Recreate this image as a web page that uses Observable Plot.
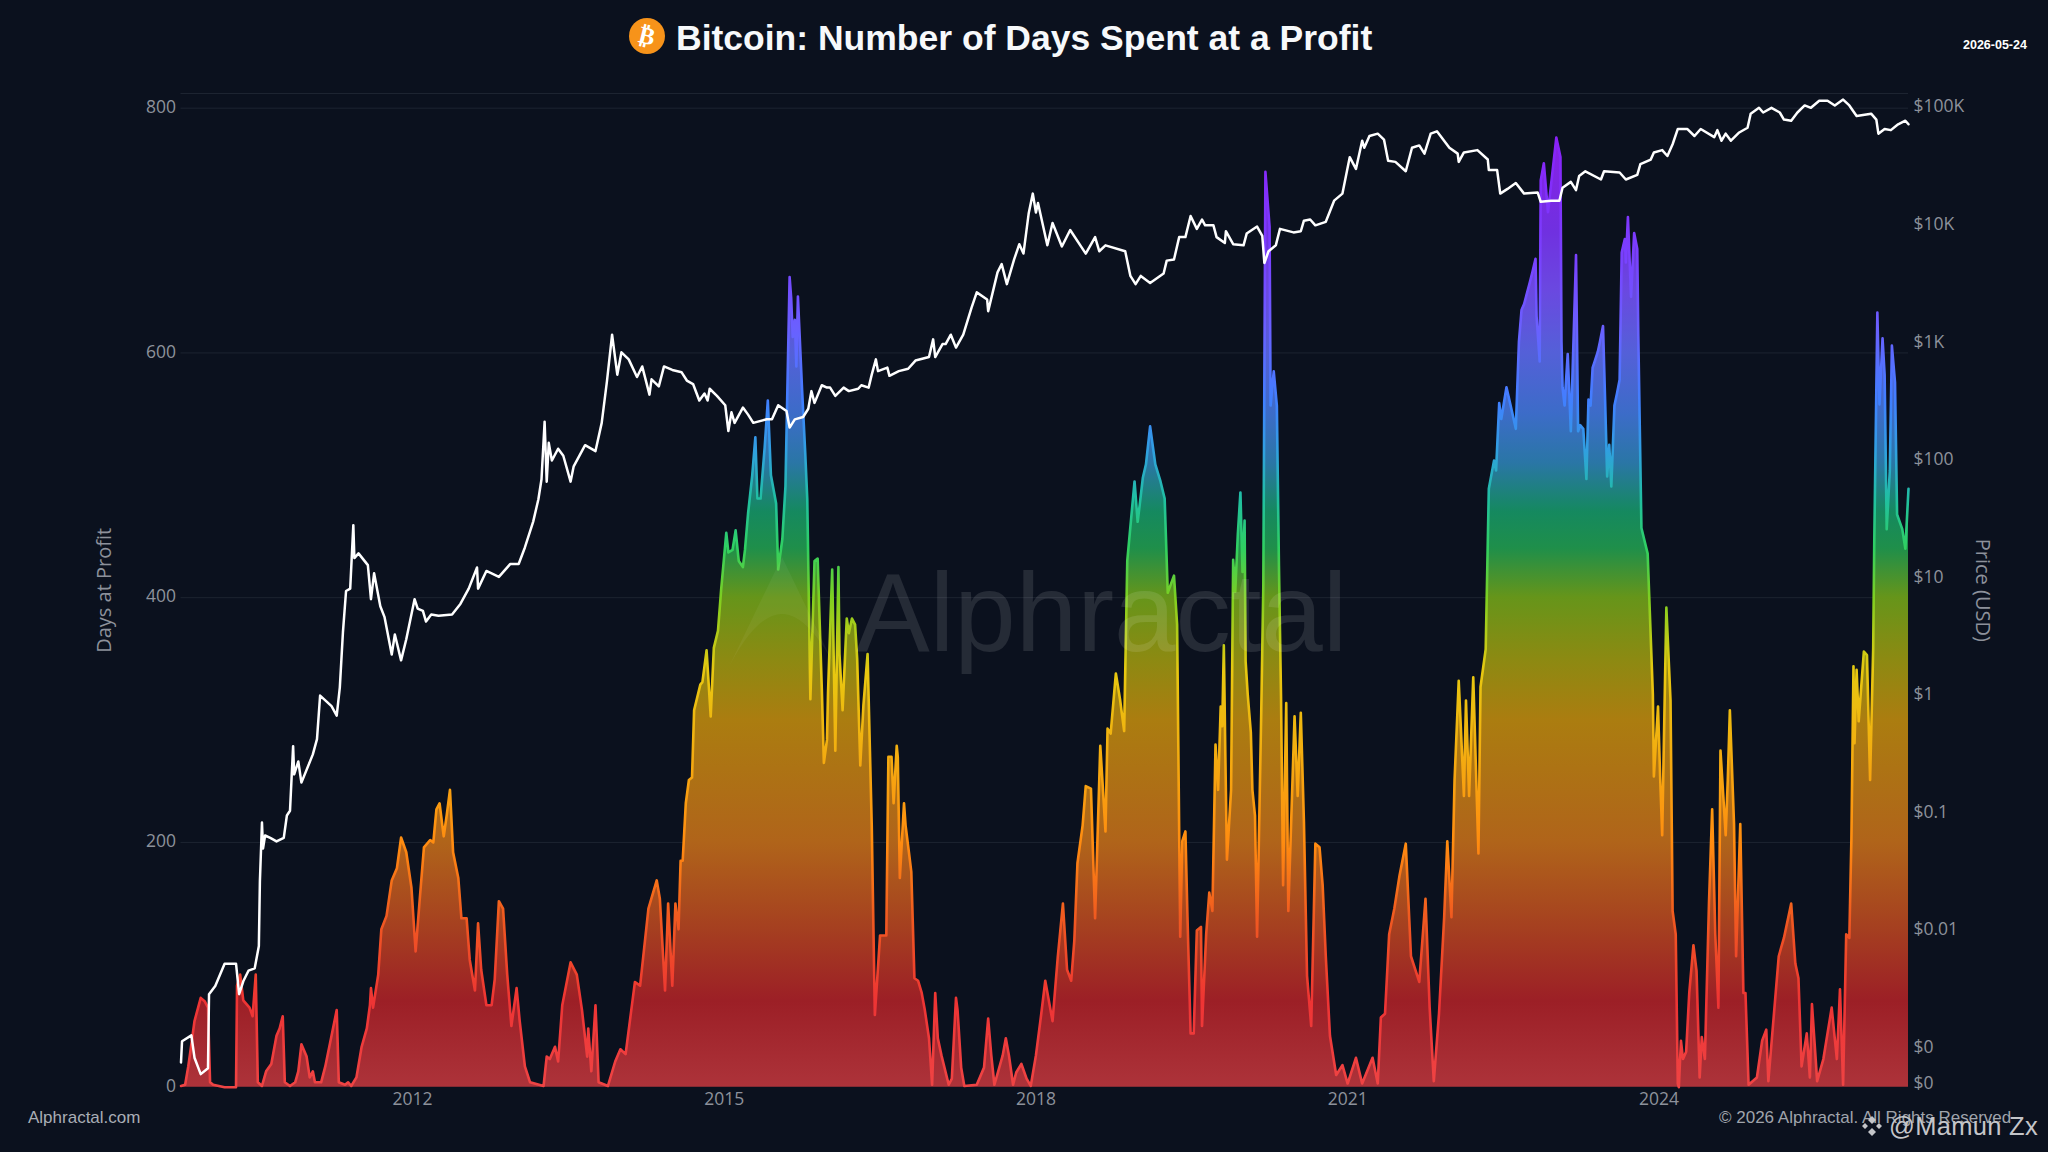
<!DOCTYPE html>
<html>
<head>
<meta charset="utf-8">
<title>Bitcoin: Number of Days Spent at a Profit</title>
<script src="https://cdn.jsdelivr.net/npm/d3@7"></script>
<script src="https://cdn.jsdelivr.net/npm/@observablehq/plot@0.6"></script>
<style>
  html,body{margin:0;padding:0;background:#0b111e;width:2048px;height:1152px;overflow:hidden}
  #stage{position:relative;width:2048px;height:1152px;font-family:"Liberation Sans",Arial,sans-serif}
  #stage>svg.plotlayer,#stage>figure{position:absolute;left:0;top:0;margin:0}
  .abs{position:absolute;white-space:nowrap}
  #title{left:676px;top:16px;font-size:35.5px;line-height:44px;font-weight:700;color:#f7f9fb}
  #coin{left:629px;top:18px;width:36px;height:36px;border-radius:50%;background:#f7931a;color:#fff;font:700 24px/36px "DejaVu Sans";text-align:center}
  #coin span{display:inline-block;transform:rotate(14deg)}
  #date{left:1963px;top:37px;font-size:12.5px;line-height:16px;font-weight:700;color:#fff}
  #site{left:28px;top:1108px;font-size:17px;line-height:20px;color:#a9adb5}
  #copy{left:1719px;top:1108px;font-size:17px;line-height:20px;color:#a0a4ac}
  #tag{left:1889px;top:1112px;font-size:25.5px;line-height:28px;color:#c4c5c9;letter-spacing:.3px}
  #stage svg#bn{left:1859px;top:1113px}
  #mark{left:856px;top:550px;font-size:110.5px;line-height:126px;color:#fff;opacity:.105}
  #stage svg#logo{left:722px;top:552px;opacity:.045}
</style>
</head>
<body>
<div id="stage"></div>
<script>
// Days at profit: decimal year of each read vertex, and value read at it
const dayYears = [2009.77,2009.81,2009.84,2009.86,2009.90,2009.96,2010.00,2010.03,2010.05,2010.08,2010.19,2010.30,2010.31,2010.34,2010.37,2010.43,2010.46,2010.49,2010.51,2010.55,2010.59,2010.64,2010.69,2010.72,2010.75,2010.77,2010.82,2010.87,2010.90,2010.93,2010.98,2011.01,2011.04,2011.06,2011.12,2011.16,2011.22,2011.27,2011.29,2011.35,2011.38,2011.41,2011.46,2011.51,2011.56,2011.59,2011.60,2011.62,2011.67,2011.70,2011.75,2011.80,2011.85,2011.89,2011.94,2011.99,2012.03,2012.07,2012.11,2012.17,2012.20,2012.23,2012.26,2012.30,2012.33,2012.36,2012.39,2012.44,2012.47,2012.52,2012.55,2012.60,2012.63,2012.66,2012.71,2012.76,2012.79,2012.83,2012.87,2012.91,2012.95,2013.00,2013.03,2013.08,2013.13,2013.26,2013.29,2013.32,2013.37,2013.40,2013.44,2013.52,2013.58,2013.63,2013.68,2013.69,2013.72,2013.76,2013.79,2013.88,2013.95,2014.00,2014.05,2014.14,2014.19,2014.27,2014.35,2014.38,2014.43,2014.46,2014.50,2014.53,
2014.56,2014.58,2014.63,2014.66,2014.71,2014.77,2014.83,2014.87,2014.90,2014.94,2014.97,2015.02,2015.08,2015.11,2015.18,2015.23,2015.30,2015.35,2015.39,2015.42,2015.45,2015.52,2015.56,2015.59,2015.63,2015.68,2015.71,2015.75,2015.80,2015.83,2015.87,2015.90,2015.94,2015.96,2016.00,2016.04,2016.07,2016.10,2016.14,2016.18,2016.23,2016.28,2016.31,2016.34,2016.38,2016.42,2016.45,2016.50,2016.56,2016.58,2016.66,2016.69,2016.73,2016.78,2016.83,2016.90,2016.97,2017.00,2017.03,2017.09,2017.16,2017.23,2017.31,2017.43,2017.54,2017.60,2017.71,2017.78,2017.86,2017.95,2018.00,2018.09,2018.16,2018.26,2018.34,2018.40,2018.48,2018.53,2018.57,2018.62,2018.67,2018.69,2018.77,2018.85,2018.88,2018.95,2019.03,2019.10,2019.15,2019.24,2019.27,2019.33,2019.36,
2019.39,2019.41,2019.44,2019.46,2019.49,2019.52,2019.55,2019.59,2019.60,2019.64,2019.67,2019.70,2019.73,2019.78,2019.81,2019.84,2019.88,2019.90,2019.92,2019.97,2019.99,2020.01,2020.02,2020.07,2020.11,2020.13,2020.17,2020.19,2020.21,2020.25,2020.26,2020.29,2020.32,2020.34,2020.36,2020.38,2020.41,2020.43,2020.49,2020.52,2020.55,2020.58,2020.61,2020.65,2020.69,2020.73,2020.76,2020.79,2020.83,2020.89,2020.95,2021.00,2021.08,2021.14,2021.24,2021.29,2021.32,2021.36,2021.40,2021.45,2021.50,2021.56,2021.61,2021.69,2021.75,2021.79,2021.83,2021.88,2021.93,2021.96,2022.00,2022.03,2022.07,2022.12,2022.14,2022.17,2022.21,2022.26,2022.28,2022.33,2022.36,2022.41,2022.46,2022.53,2022.62,2022.65,2022.70,2022.75,2022.81,2022.85,2022.86,2022.89,2022.93,2023.01,2023.05,2023.06,2023.07,2023.09,2023.12,2023.15,2023.20,2023.22,2023.27,2023.30,2023.32,2023.36,2023.41,2023.46,2023.48,2023.50,2023.54,2023.57,2023.62,2023.64,2023.70,2023.73,2023.76,2023.79,2023.80,2023.83,2023.89,2023.94,2023.95,2023.99,2024.01,2024.03,2024.07,2024.11,2024.13,2024.16,2024.18,
2024.19,2024.21,2024.23,2024.26,2024.29,2024.33,2024.36,2024.39,2024.41,2024.44,2024.48,2024.51,2024.54,2024.57,2024.59,2024.64,2024.66,2024.68,2024.72,2024.74,2024.78,2024.81,2024.83,2024.86,2024.94,2024.99,2025.03,2025.05,2025.10,2025.15,2025.20,2025.27,2025.31,2025.34,2025.37,2025.42,2025.45,2025.47,2025.52,2025.58,2025.66,2025.71,2025.74,2025.77,2025.80,2025.83,2025.85,2025.87,2025.88,2025.90,2025.92,2025.97,2026.00,2026.03,2026.06,2026.07,2026.10,2026.12,2026.15,2026.17,2026.19,2026.22,2026.24,2026.27,2026.29,2026.34,2026.37,2026.40];
const daysAtProfit = [1,2,17,29,54,73,70,65,4,2,0,0,83,92,71,65,58,92,4,1,13,19,42,48,58,4,1,4,13,35,25,8,13,4,4,17,42,63,4,2,4,1,8,33,48,67,81,65,92,129,140,169,179,204,192,163,111,154,196,202,200,227,232,205,223,243,192,171,138,138,104,79,134,96,67,67,88,152,146,92,50,81,54,17,4,1,25,23,33,21,67,102,92,63,25,48,13,67,4,1,21,31,27,86,83,146,169,154,79,150,83,150,
129,185,232,251,308,329,357,303,359,373,406,453,439,455,425,469,531,481,523,561,500,423,448,491,662,627,646,570,481,317,430,432,326,265,322,423,275,425,308,383,383,350,263,312,354,214,59,124,124,270,279,171,232,190,89,77,40,2,77,26,2,73,1,2,56,2,40,2,19,1,26,87,54,150,87,183,246,244,138,279,209,293,338,291,430,495,498,540,509,481,404,418,378,
123,201,209,139,44,44,128,131,50,125,159,144,280,311,361,186,243,431,405,486,421,463,348,290,222,123,306,410,748,703,557,585,557,426,319,165,314,144,303,238,306,217,91,50,199,196,165,107,42,10,18,3,24,3,24,3,57,60,125,146,173,199,107,86,154,65,5,60,139,201,139,251,332,238,316,238,335,191,327,358,489,512,559,572,538,609,640,656,677,593,741,755,715,776,760,609,572,557,599,536,680,536,538,497,562,588,601,622,562,499,491,557,578,682,711,646,698,685,614,457,436,321,254,311,254,206,392,316,144,125,3,
0,38,23,29,77,116,95,8,41,23,152,227,125,65,275,206,251,308,215,107,215,77,77,2,8,38,47,5,56,107,122,150,101,89,17,44,8,68,5,23,65,23,80,2,125,122,203,344,281,341,299,356,353,251,359,444,633,558,612,582,456,504,606,576,468,456,440,489];
// further vertices read between the ones above
const dayYearsExtra = [2014.60,2014.69,2014.79,2015.04,2015.14,2015.20,2015.27,2015.32,2015.50,2015.645,2015.66,2015.695,2015.78,2015.99,2016.11,2016.20,2016.26,2016.61,2016.63,2016.67,2016.745,2016.80,2016.865,2016.93,2017.055,2017.19,2017.245,2017.28,2017.50,2017.57,2017.68,2017.74,2017.81,2017.91,2018.05,2018.21,2018.30,2018.37,2018.45,2018.72,2018.81,2018.91,2018.98,2019.00,2019.06,2019.20,2022.43,2022.48,2022.57,2022.675,2022.78,2022.82,2023.10,2023.24,2023.34,2023.38,2023.43,2023.52,2023.595,2023.67,2023.68,2019.755,2019.795,2019.825,2019.945,2020.04,2020.085];
const daysExtra = [185,253,331,437,430,439,500,481,477,645,613,589,519,284,354,371,378,270,232,270,214,176,87,63,40,7,63,16,16,26,26,26,12,7,59,106,96,120,214,289,317,458,462,476,509,495,504,546,557,635,666,630,572,541,557,593,609,525,567,693,674,243,295,269,452,321,243];

// Bitcoin price: decimal year of each read vertex, and log10 of the USD price read at it
const priceYears = [2009.77,2009.78,2009.87,2009.90,2009.96,2010.03,2010.04,2010.10,2010.19,2010.30,2010.33,2010.37,2010.42,2010.48,2010.52,2010.53,2010.55,2010.56,2010.58,2010.63,2010.69,2010.76,2010.79,2010.82,2010.85,2010.86,2010.90,2010.93,2011.04,2011.08,2011.11,2011.16,2011.22,2011.27,2011.30,2011.33,2011.36,2011.40,2011.43,2011.44,2011.48,2011.57,2011.60,2011.63,2011.69,2011.73,2011.80,2011.83,2011.89,2011.94,2012.02,2012.05,2012.10,2012.13,2012.18,2012.25,2012.38,2012.46,2012.54,2012.62,2012.63,2012.71,2012.83,2012.94,2013.02,2013.08,2013.16,2013.21,2013.24,2013.27,2013.29,2013.31,2013.34,2013.40,2013.45,2013.52,2013.55,2013.66,2013.76,2013.82,2013.87,2013.92,2013.97,2014.01,2014.08,2014.16,2014.21,2014.28,2014.30,2014.37,2014.42,2014.50,
2014.59,2014.64,2014.70,2014.76,2014.81,2014.84,2014.86,2014.93,2015.01,2015.04,2015.07,2015.10,2015.18,2015.23,2015.28,2015.41,2015.46,2015.52,2015.60,2015.63,2015.68,2015.76,2015.81,2015.84,2015.87,2015.94,2015.99,2016.02,2016.07,2016.15,2016.20,2016.29,2016.32,2016.39,2016.42,2016.46,2016.48,2016.57,2016.59,2016.68,2016.77,2016.84,2016.97,2017.01,2017.03,2017.10,2017.13,2017.18,2017.23,2017.30,2017.38,2017.43,2017.53,2017.54,2017.63,2017.67,2017.72,2017.79,2017.84,2017.88,2017.93,2017.97,2018.00,2018.02,2018.11,2018.16,2018.25,2018.33,2018.48,2018.57,2018.61,2018.67,
2018.86,2018.91,2018.96,2019.01,2019.10,2019.23,2019.26,2019.33,2019.38,2019.44,2019.49,2019.55,2019.60,2019.63,2019.71,2019.74,2019.82,2019.83,2019.90,2020.00,2020.03,2020.13,2020.18,2020.20,2020.24,2020.31,2020.35,2020.48,2020.55,2020.58,2020.64,2020.69,2020.79,2020.87,2020.95,2021.02,2021.08,2021.14,2021.16,2021.21,2021.29,2021.35,2021.39,2021.46,2021.56,2021.62,2021.69,2021.74,2021.80,2021.86,2021.98,2022.06,2022.07,2022.12,2022.25,2022.35,2022.36,2022.44,2022.47,2022.54,2022.62,2022.70,2022.83,2022.86,2022.96,2023.04,2023.07,2023.15,2023.20,2023.23,2023.29,2023.44,
2023.47,2023.62,2023.68,2023.79,2023.82,2023.92,2023.95,2024.03,2024.08,2024.13,2024.18,2024.27,2024.34,2024.40,2024.53,2024.56,2024.60,2024.64,2024.69,2024.77,2024.85,2024.88,2024.96,2025.00,2025.08,2025.16,2025.20,2025.27,2025.33,2025.40,2025.46,2025.54,2025.62,2025.69,2025.77,2025.83,2025.90,2026.04,2026.09,2026.11,2026.17,2026.23,2026.30,2026.37,2026.40];
const priceLog10 = [-3.12,-2.94,-2.89,-3.08,-3.22,-3.17,-2.54,-2.47,-2.28,-2.28,-2.54,-2.43,-2.34,-2.32,-2.13,-1.58,-1.08,-1.30,-1.19,-1.21,-1.24,-1.21,-1.02,-0.98,-0.43,-0.67,-0.56,-0.74,-0.50,-0.37,0.00,-0.04,-0.09,-0.17,0.07,0.54,0.89,0.91,1.45,1.17,1.21,1.11,0.82,1.04,0.76,0.67,0.35,0.52,0.30,0.48,0.82,0.74,0.72,0.63,0.69,0.68,0.69,0.78,0.91,1.09,0.91,1.06,1.01,1.12,1.12,1.26,1.48,1.67,1.84,2.33,1.82,2.15,2.00,2.10,2.04,1.82,1.95,2.13,2.08,2.32,2.67,3.07,2.73,2.92,2.86,2.71,2.80,2.56,2.69,2.63,2.80,2.77,
2.75,2.68,2.65,2.51,2.57,2.51,2.61,2.55,2.47,2.25,2.41,2.32,2.45,2.39,2.32,2.35,2.35,2.47,2.42,2.28,2.35,2.37,2.44,2.59,2.49,2.64,2.62,2.62,2.55,2.62,2.59,2.61,2.64,2.62,2.73,2.86,2.76,2.79,2.72,2.76,2.78,2.85,2.88,3.03,2.88,2.99,2.99,3.07,2.96,3.07,3.30,3.43,3.37,3.27,3.60,3.67,3.50,3.71,3.84,3.76,4.10,4.27,4.11,4.19,3.83,4.02,3.82,3.96,3.76,3.90,3.78,3.83,
3.78,3.57,3.50,3.57,3.51,3.59,3.70,3.71,3.90,3.90,4.08,3.97,4.05,4.00,4.00,3.90,3.85,3.95,3.84,3.83,3.93,3.99,3.91,3.68,3.78,3.83,3.97,3.94,3.95,4.04,4.05,4.00,4.03,4.21,4.27,4.58,4.48,4.72,4.66,4.76,4.78,4.73,4.55,4.54,4.46,4.66,4.68,4.61,4.78,4.80,4.66,4.61,4.54,4.62,4.64,4.56,4.47,4.47,4.27,4.31,4.36,4.27,4.28,4.20,4.21,4.21,4.32,4.37,4.30,4.42,4.46,4.39,
4.46,4.45,4.39,4.43,4.52,4.56,4.62,4.64,4.59,4.69,4.82,4.82,4.76,4.82,4.75,4.81,4.72,4.78,4.72,4.79,4.83,4.95,5.00,4.96,5.00,4.96,4.90,4.89,4.96,5.02,5.00,5.06,5.06,5.02,5.07,5.02,4.93,4.95,4.90,4.78,4.82,4.81,4.86,4.89,4.86];

const dayTicks = [0,200,400,600,800];
const priceTicks = [100000,10000,1000,100,10,1,0.1,0.01,0.001];
const priceTickLabels = ["$100K","$10K","$1K","$100","$10","$1","$0.1","$0.01","$0"];
const priceBottomTick = 0.00049;
const priceBottomLabel = "$0";
const yearTicks = [2012,2015,2018,2021,2024];

// colour ramps keyed to days at profit
const fillStops = [[0,"#ad333a"],[70,"#9c1f26"],[140,"#a7451f"],[200,"#b0641a"],[300,"#ab7d10"],[350,"#8c8a12"],[400,"#66951a"],[440,"#1f8f4a"],[470,"#15895f"],[510,"#2a76a6"],[550,"#3c6cc8"],[600,"#5460d8"],[650,"#6a49e0"],[700,"#7030e0"],[780,"#8a1fe8"]];
const lineStops = [[0,"#ef4444"],[70,"#ee3434"],[140,"#f05a20"],[200,"#ff8c10"],[280,"#f2b010"],[340,"#e8c810"],[400,"#7ecf20"],[440,"#30d060"],[480,"#20c0a0"],[520,"#30a0e0"],[560,"#4080ff"],[620,"#6a60ff"],[680,"#7a40ff"],[780,"#8a20f8"]];

const toDate = v => {
  const y = Math.floor(v), s = Date.UTC(y,0,1), e = Date.UTC(y+1,0,1);
  return new Date(s + (v-y)*(e-s));
};
const dayRows = d3.sort(
  [...dayYears.map((t,i)=>({t, days:daysAtProfit[i]})), ...dayYearsExtra.map((t,i)=>({t, days:daysExtra[i]}))],
  d=>d.t
).map(d=>({date:toDate(d.t), days:d.days}));
const priceRows = priceYears.map((t,i)=>({date:toDate(t), price:10**priceLog10[i]}));

const W=2048, H=1152, mL=180.5, mR=140, mT=93, mB=65.3;
const xDomain=[toDate(2009.77),toDate(2026.40)];
const axisColor="#8d919b", gridColor="#1d2431";
const font='"Open Sans",sans-serif';

function gradients(index,{y}){
  const defs=d3.create("svg:defs");
  const add=(id,stops)=>{
    const g=defs.append("linearGradient").attr("id",id).attr("gradientUnits","userSpaceOnUse")
      .attr("x1",0).attr("x2",0).attr("y1",y(0)).attr("y2",y(780));
    stops.forEach(([d,c])=>g.append("stop").attr("offset",d/780).attr("stop-color",c));
  };
  add("daysFill",fillStops); add("daysLine",lineStops);
  return defs.node();
}

const daysPlot=Plot.plot({
  width:W,height:H,marginLeft:mL,marginRight:mR,marginTop:mT,marginBottom:mB,className:"plotlayer",
  style:{background:"transparent",fontFamily:font,overflow:"visible"},
  x:{type:"utc",domain:xDomain},
  y:{domain:[0,812]},
  marks:[
    gradients,
    Plot.ruleY([...dayTicks.slice(1),812],{stroke:gridColor,strokeWidth:1}),
    Plot.areaY(dayRows,{x:"date",y:"days",fill:"url(#daysFill)",curve:"linear"}),
    Plot.lineY(dayRows,{x:"date",y:"days",stroke:"url(#daysLine)",strokeWidth:2.6,curve:"linear",strokeLinejoin:"round"}),
    Plot.axisX({ticks:yearTicks.map(y=>toDate(y)),tickSize:0,tickPadding:5,fontSize:17.5,color:axisColor,tickFormat:d=>String(d.getUTCFullYear()),label:null}),
    Plot.axisY({anchor:"left",ticks:dayTicks,tickSize:0,tickPadding:5,fontSize:17.5,color:axisColor,dy:-1,label:null}),
    Plot.text(["Days at Profit"],{text:d=>d,frameAnchor:"left",textAnchor:"middle",dx:-76,rotate:-90,fontSize:20,fill:axisColor})
  ]
});

const pricePlot=Plot.plot({
  width:W,height:H,marginLeft:mL,marginRight:mR,marginTop:mT,marginBottom:mB,className:"plotlayer",
  style:{background:"transparent",fontFamily:font,overflow:"visible"},
  x:{type:"utc",domain:xDomain,axis:null},
  y:{type:"log",domain:[10**-3.331,10**5.1216]},
  marks:[
    Plot.lineY(priceRows,{x:"date",y:"price",stroke:"#ffffff",strokeWidth:2.5,curve:"linear",strokeLinejoin:"round"}),
    Plot.axisY({anchor:"right",ticks:priceTicks,tickSize:0,tickPadding:5,fontSize:17.5,color:axisColor,dy:-1,
      tickFormat:d=>priceTickLabels[priceTicks.indexOf(d)],label:null}),
    Plot.text([priceBottomTick],{y:d=>d,text:()=>priceBottomLabel,frameAnchor:"right",textAnchor:"start",dx:5,dy:-1,fontSize:17.5,fill:axisColor}),
    Plot.text(["Price (USD)"],{text:d=>d,frameAnchor:"right",textAnchor:"middle",dx:74,rotate:90,fontSize:20,fill:axisColor})
  ]
});

const stage=document.getElementById("stage");
stage.innerHTML=`
  <div class="abs" id="mark">Alphractal</div>
  <svg class="abs" id="logo" width="120" height="130" viewBox="0 0 120 130"><path d="M60 5 L118 125 Q88 62 60 62 Q32 62 2 125 Z" fill="#fff"/></svg>
  <div class="abs" id="coin"><span>₿</span></div>
  <div class="abs" id="title">Bitcoin: Number of Days Spent at a Profit</div>
  <div class="abs" id="date">2026-05-24</div>
  <div class="abs" id="site">Alphractal.com</div>
  <div class="abs" id="copy">© 2026 Alphractal. All Rights Reserved</div>
  <svg class="abs" id="bn" width="26" height="26" viewBox="0 0 26 26" fill="#c4c5c9"><path d="M13 3l4 4-4 4-4-4zM6 10l3 3-3 3-3-3zM20 10l3 3-3 3-3-3zM13 15l4 4-4 4-4-4z"/></svg>
  <div class="abs" id="tag">@Mamun Zx</div>`;
stage.insertBefore(daysPlot,stage.firstChild);
stage.insertBefore(pricePlot,stage.children[1]);
</script>
</body>
</html>
